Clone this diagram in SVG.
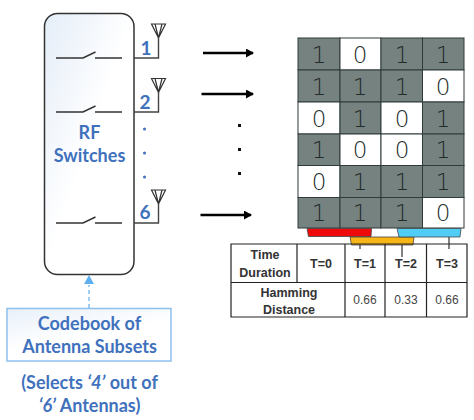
<svg xmlns="http://www.w3.org/2000/svg" width="474" height="420" viewBox="0 0 474 420">
<style>
.sans{font-family:Lato,"Open Sans","Liberation Sans",Arial,sans-serif}
.blue{fill:#3f71bd;font-weight:700}
.cell{stroke:#2f3a3a;stroke-width:1}
.on{fill:#76827f}
.off{fill:#fff}
.bit{font-family:"DejaVu Sans ExtraLight","DejaVu Sans",sans-serif;font-weight:200;font-size:23px;fill:#222a2a;text-anchor:middle}
.sw{fill:none;stroke:#333;stroke-width:1.4}
.port{fill:none;stroke:#444;stroke-width:1.4}
.ant{fill:none;stroke:#333;stroke-width:1.2}
.arrow{fill:none;stroke:#000;stroke-width:2.6}
.tb{fill:none;stroke:#222;stroke-width:1.2}
.th{font-family:"Liberation Sans",Arial,sans-serif;font-size:12.500px;font-weight:700;fill:#333;text-anchor:middle}
.tv{font-family:"Liberation Sans",Arial,sans-serif;font-size:12px;fill:#444;text-anchor:middle}
</style>
<defs>
<linearGradient id="g1" x1="0" y1="0" x2="0.5" y2="0.5"><stop offset="0" stop-color="#e4edf8"/><stop offset="1" stop-color="#fff"/></linearGradient>
<linearGradient id="g2" x1="0" y1="0" x2="0.6" y2="1"><stop offset="0" stop-color="#e8f0fa"/><stop offset="0.6" stop-color="#fff"/></linearGradient>
<marker id="ah" markerWidth="8" markerHeight="9" refX="7" refY="4.500" orient="auto" markerUnits="userSpaceOnUse"><path d="M0 0L8 4.500L0 9z" fill="#000"/></marker>
<g id="antenna"><path class="ant" d="M-7 0H7L0 14zM-3.500 0L0 14L3.500 0M0 14"/></g>
<g id="switch"><path class="sw" d="M56 0H83L95.500 -6M95 0H122"/></g>
</defs>

<g id="rf-switches">
<rect x="44.500" y="13.500" width="89.500" height="261" rx="13" fill="url(#g1)" stroke="#333" stroke-width="1.500"/>
<use href="#switch" y="58"/><use href="#switch" y="112"/><use href="#switch" y="223"/>
<text class="sans blue" font-size="18" text-anchor="middle" x="89.500" y="139">RF</text>
<text class="sans blue" font-size="18" text-anchor="middle" x="89.500" y="162">Switches</text>
</g>

<g id="antenna-1"><use href="#antenna" x="158.500" y="24"/><path class="port" d="M134 58H158.500V38"/><text class="sans blue" font-size="19" text-anchor="middle" x="146" y="55">1</text></g>
<g id="antenna-2"><use href="#antenna" x="158.500" y="78.500"/><path class="port" d="M134 112H158.500V92"/><text class="sans blue" font-size="19" text-anchor="middle" x="145" y="109">2</text></g>
<g id="antenna-6"><use href="#antenna" x="158.500" y="190"/><path class="port" d="M134 223H158.500V204"/><text class="sans blue" font-size="19" text-anchor="middle" x="145" y="219">6</text></g>
<g id="port-dots" fill="#3f71bd"><circle cx="144.500" cy="129" r="1.500"/><circle cx="144.500" cy="153" r="1.500"/><circle cx="144.500" cy="177" r="1.500"/></g>

<g id="connectors">
<path class="arrow" marker-end="url(#ah)" d="M203 53H253"/>
<path class="arrow" marker-end="url(#ah)" d="M201.500 94H253"/>
<path class="arrow" marker-end="url(#ah)" d="M200.500 215H251"/>
<path d="M89 308V285" fill="none" stroke="#6fb4ee" stroke-width="1.300" stroke-dasharray="4 3"/>
<path d="M84 284L89 275L94 284z" fill="#5fb0f0"/>
<path d="M360 245V249M402 245V257M449 237V249" fill="none" stroke="#333" stroke-width="1.200"/>
</g>
<g id="row-dots" fill="#111"><rect x="238" y="124" width="3" height="3"/><rect x="238" y="148" width="3" height="3"/><rect x="238" y="172" width="3" height="3"/></g>

<g id="codebook">
<rect x="7" y="308.500" width="164" height="52.500" fill="url(#g2)" stroke="#8ec0ee" stroke-width="1.500"/>
<text class="sans blue" font-size="18" text-anchor="middle" x="89.500" y="330">Codebook of</text>
<text class="sans blue" font-size="18" text-anchor="middle" x="89.500" y="353">Antenna Subsets</text>
<text class="sans blue" font-size="18" text-anchor="middle" x="89.500" y="389">(Selects <tspan font-style="italic">‘4’</tspan> out of</text>
<text class="sans blue" font-size="18" text-anchor="middle" x="89.500" y="412"><tspan font-style="italic">‘6’</tspan> Antennas)</text>
</g>

<g id="matrix">
<rect class="cell on" x="298" y="38" width="42" height="32"/><rect class="cell off" x="340" y="38" width="41" height="32"/><rect class="cell on" x="381" y="38" width="41.500" height="32"/><rect class="cell on" x="422.500" y="38" width="41.500" height="32"/>
<rect class="cell on" x="298" y="70" width="42" height="32"/><rect class="cell on" x="340" y="70" width="41" height="32"/><rect class="cell on" x="381" y="70" width="41.500" height="32"/><rect class="cell off" x="422.500" y="70" width="41.500" height="32"/>
<rect class="cell off" x="298" y="102" width="42" height="32"/><rect class="cell on" x="340" y="102" width="41" height="32"/><rect class="cell off" x="381" y="102" width="41.500" height="32"/><rect class="cell on" x="422.500" y="102" width="41.500" height="32"/>
<rect class="cell on" x="298" y="134" width="42" height="31.500"/><rect class="cell off" x="340" y="134" width="41" height="31.500"/><rect class="cell off" x="381" y="134" width="41.500" height="31.500"/><rect class="cell on" x="422.500" y="134" width="41.500" height="31.500"/>
<rect class="cell off" x="298" y="165.500" width="42" height="32"/><rect class="cell on" x="340" y="165.500" width="41" height="32"/><rect class="cell on" x="381" y="165.500" width="41.500" height="32"/><rect class="cell on" x="422.500" y="165.500" width="41.500" height="32"/>
<rect class="cell on" x="298" y="197.500" width="42" height="30.500"/><rect class="cell on" x="340" y="197.500" width="41" height="30.500"/><rect class="cell on" x="381" y="197.500" width="41.500" height="30.500"/><rect class="cell off" x="422.500" y="197.500" width="41.500" height="30.500"/>
<text class="bit" x="319" y="63">1</text><text class="bit" x="360" y="63">0</text><text class="bit" x="402" y="63">1</text><text class="bit" x="443" y="63">1</text>
<text class="bit" x="319" y="95">1</text><text class="bit" x="360" y="95">1</text><text class="bit" x="402" y="95">1</text><text class="bit" x="443" y="95">0</text>
<text class="bit" x="319" y="127">0</text><text class="bit" x="360" y="127">1</text><text class="bit" x="402" y="127">0</text><text class="bit" x="443" y="127">1</text>
<text class="bit" x="319" y="158">1</text><text class="bit" x="360" y="158">0</text><text class="bit" x="402" y="158">0</text><text class="bit" x="443" y="158">1</text>
<text class="bit" x="319" y="190">0</text><text class="bit" x="360" y="190">1</text><text class="bit" x="402" y="190">1</text><text class="bit" x="443" y="190">1</text>
<text class="bit" x="319" y="221">1</text><text class="bit" x="360" y="221">1</text><text class="bit" x="402" y="221">1</text><text class="bit" x="443" y="221">0</text>
</g>

<g id="brackets" stroke="#444" stroke-width="0.800">
<path d="M307 228.500H371.500L371 236.500H308.500z" fill="#ee0a0a"/>
<path d="M350 237H414L413 245H351.500z" fill="#f7b516"/>
<path d="M397 228.500H461L460 237H399z" fill="#4fcdf5"/>
</g>

<g id="table">
<path class="tb" d="M231 244H467V317H231zM231 282.500H467M297 244V282.500M345 244V317M385 244V317M426.500 244V317"/>
<text class="th" x="265" y="259">Time</text><text class="th" x="265" y="277">Duration</text>
<text class="th" x="321" y="268">T=0</text><text class="th" x="365" y="268">T=1</text><text class="th" x="406" y="268">T=2</text><text class="th" x="447" y="268">T=3</text>
<text class="th" x="289" y="297">Hamming</text><text class="th" x="289" y="314">Distance</text>
<text class="tv" x="365" y="304">0.66</text><text class="tv" x="406" y="304">0.33</text><text class="tv" x="447" y="304">0.66</text>
</g>
</svg>
